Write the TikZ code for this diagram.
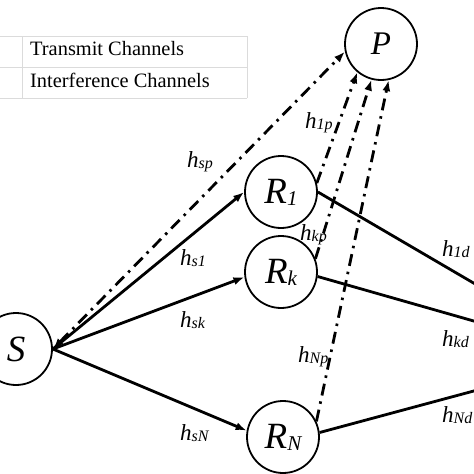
\documentclass[tikz,border=0pt]{standalone}
\usepackage{fontspec}
\setmainfont{Liberation Serif}
\usetikzlibrary{arrows.meta}
\newcommand{\hlab}[1]{{\fontsize{23}{23}\selectfont\itshape h}\raisebox{-1.5pt}{\fontsize{16}{16}\selectfont\itshape #1}}
\newcommand{\rlab}[2]{{\fontsize{37}{37}\selectfont\itshape #1}\raisebox{-2pt}{\fontsize{21}{21}\selectfont\itshape #2}}
\begin{document}
\begin{tikzpicture}[x=1pt,y=-1pt,
  nd/.style={circle,draw,line width=1.8pt,minimum size=72pt,inner sep=0pt},
  tx/.style={line width=2.8pt,-{Latex[length=11pt,width=8pt]}},
  plainln/.style={line width=2.8pt},
  intf/.style={line width=2.8pt,dash pattern=on 12pt off 6pt on 2.5pt off 6pt,-{Latex[length=11pt,width=8pt]}},
  lab/.style={inner sep=0pt,anchor=base west},
  legtxt/.style={inner sep=0pt,anchor=base west,font=\fontsize{20.4}{22}\selectfont},
  gridln/.style={draw=black!14,line width=0.8pt}]
\useasboundingbox (0,0) rectangle (474,474);
\clip (0,0) rectangle (474,474);
\fill[white] (0,0) rectangle (474,474);
% legend
\draw[gridln] (-2,36) -- (247,36) (-2,67) -- (247,67) (-2,98) -- (247,98);
\draw[gridln] (22,36) -- (22,98) (247,36) -- (247,98);
\node[legtxt] (lt) at (30,55) {Transmit Channels};
\node[legtxt] (li) at (30,87) {Interference Channels};
% nodes
\node[nd] (S) at (16,349) {\fontsize{37}{37}\selectfont\itshape S};
\node[nd] (P) at (381,44) {\fontsize{33}{33}\selectfont\itshape P};
\node[nd] (R1) at (281,192) {\rlab{R}{1}};
\node[nd] (Rk) at (281,272) {\rlab{R}{k}};
\node[nd] (RN) at (283,437) {\rlab{R}{N}};
\coordinate (D) at (600,357);
% transmit channels
\draw[tx] (S.east) -- (R1.west);
\draw[tx] (S.east) -- (Rk.188);
\draw[tx] (S.east) -- (RN.170);
\draw[plainln] (R1.east) -- (D);
\draw[plainln] (Rk.-7) -- (D);
\draw[plainln] (RN.7) -- (D);
% interference channels
\draw[intf,{Latex[length=11pt,width=8pt]}-{Latex[length=11pt,width=8pt]}] (S.east) -- (P.192);
\draw[intf] (R1.14) -- (P.230);
\draw[intf] (Rk.21) -- (P.255);
\draw[intf] (RN.25) -- (P.282);
% labels
\node[lab] (lsp) at (187,167) {\hlab{sp}};
\node[lab] (ls1) at (180,265) {\hlab{s1}};
\node[lab] (lsk) at (180,327) {\hlab{sk}};
\node[lab] (lsN) at (180,440) {\hlab{sN}};
\node[lab] (l1p) at (305,128) {\hlab{1p}};
\node[lab] (lkp) at (300,240) {\hlab{kp}};
\node[lab] (lNp) at (298,362) {\hlab{Np}};
\node[lab] (l1d) at (442,256) {\hlab{1d}};
\node[lab] (lkd) at (442,346) {\hlab{kd}};
\node[lab] (lNd) at (442,422) {\hlab{Nd}};
\end{tikzpicture}
\end{document}
